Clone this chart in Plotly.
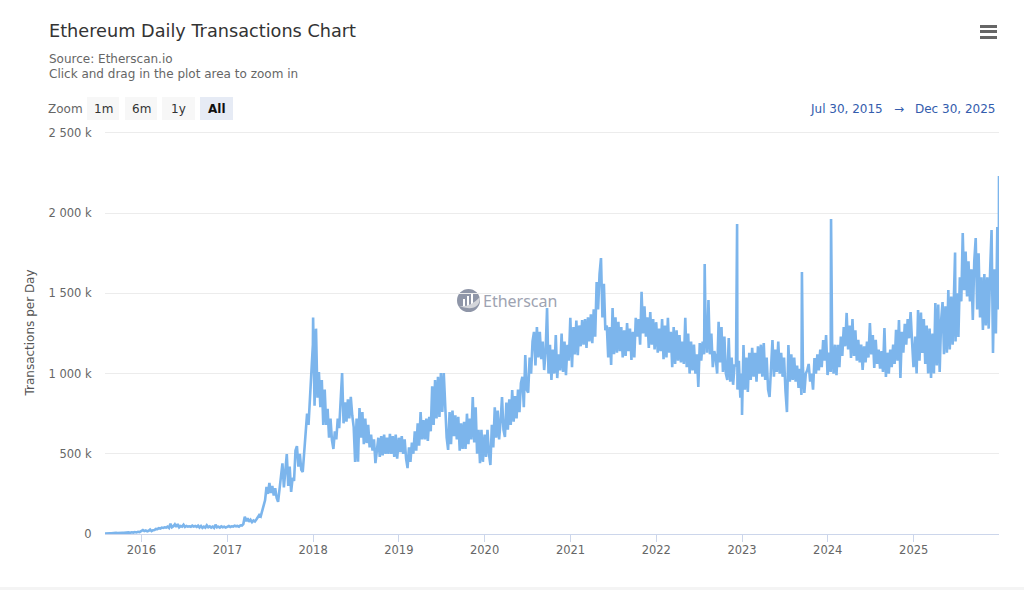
import pandas as pd
import plotly.graph_objects as go

tx_2015 = [2, 4, 3, 5, 4, 6, 5, 7, 6, 8, 7, 8, 7, 9, 8, 10, 8, 11, 9, 12, 10, 14, 12, 16]
tx_2016 = [20, 25, 18, 22, 17, 20, 28, 18, 24, 25, 32, 30, 36, 34, 40, 38, 42, 40, 46, 38,
           64, 42, 48, 60, 44, 62, 42, 50, 46, 58, 44, 50, 46, 48, 45, 52, 46, 50, 44, 52,
           40, 50, 38, 46, 40, 54, 42, 48, 40, 46, 38, 58, 42, 46, 40, 48, 42, 46, 40, 44]
tx_2017 = [45, 50, 44, 48, 46, 52, 48, 50, 46, 54, 52, 62, 108, 80, 98, 76, 88, 74, 84, 78,
           90, 104, 118, 110, 150, 175, 210, 293, 250, 318, 255, 300, 240, 285, 225, 200, 270, 350, 440, 290,
           400, 498, 300, 420, 262, 350, 330, 520, 548, 420, 500, 400, 387, 520, 620, 750, 680, 880, 1050, 1180]
tx_2018 = [1350, 800, 1280, 850, 1010, 790, 960, 680, 900, 680, 780, 600, 720, 586, 530, 640, 590, 720, 660, 800,
           1003, 690, 820, 700, 840, 720, 855, 740, 667, 449, 720, 450, 785, 600, 760, 560, 720, 567, 680, 540,
           620, 520, 590, 442, 510, 600, 480, 610, 490, 620, 500, 600, 500, 625, 500, 610, 480, 620, 470, 600]
tx_2019 = [600, 510, 610, 500, 590, 470, 411, 540, 450, 570, 500, 640, 520, 690, 550, 760, 590, 710, 590, 720,
           580, 730, 640, 920, 680, 960, 720, 980, 730, 1003, 760, 1003, 770, 600, 524, 760, 560, 770, 610, 740,
           590, 730, 520, 690, 530, 700, 530, 750, 560, 720, 590, 854, 570, 790, 500, 650, 442, 650, 450, 620]
tx_2020 = [620, 480, 650, 500, 430, 680, 540, 790, 600, 770, 590, 700, 854, 650, 605, 820, 650, 840, 680, 897,
           700, 860, 720, 900, 760, 940, 980, 790, 1115, 900, 880, 1100, 1000, 1200, 1260, 1050, 1290, 1100, 1260, 1090,
           1200, 1022, 1140, 1408, 1000, 1180, 960, 1150, 1000, 1240, 972, 1120, 1020, 1250, 1010, 1200, 990, 1180, 1080, 1347]
tx_2021 = [1300, 1040, 1290, 1120, 1330, 1115, 1300, 1170, 1334, 1180, 1340, 1160, 1350, 1200, 1370, 1190, 1400, 1230, 1570, 1400,
           1620, 1720, 1350, 1560, 1270, 1300, 1100, 1290, 1053, 1408, 1120, 1350, 1130, 1322, 1140, 1290, 1100, 1270, 1110, 1315,
           1140, 1280, 1085, 1260, 1100, 1347, 1230, 1340, 1180, 1510, 1250, 1420, 1230, 1350, 1160, 1384, 1180, 1340, 1150, 1320]
tx_2022 = [1310, 1130, 1280, 1140, 1340, 1090, 1300, 1100, 1347, 1130, 1260, 1040, 1290, 1060, 1270, 1080, 1240, 1070, 1200, 1060,
           1347, 1040, 1250, 1000, 1200, 1020, 1180, 1000, 1120, 916, 1190, 1080, 1200, 1120, 1300, 1130, 1459, 1120, 1250, 1040,
           1140, 1100, 1000, 1322, 1070, 1290, 1010, 1230, 1000, 960, 1222, 950, 1100, 930, 1050, 1050, 900, 1080, 850, 1000]
tx_2023 = [742, 1178, 900, 1100, 885, 1130, 960, 1160, 980, 1130, 950, 1170, 1000, 1180, 980, 1190, 960, 1100, 900, 854,
           1000, 1209, 980, 1150, 1010, 1200, 1000, 1130, 980, 1100, 890, 760, 1178, 950, 1120, 960, 1100, 950, 1050, 910,
           1030, 867, 1040, 880, 1000, 1020, 1060, 950, 1000, 900, 1097, 1000, 1120, 1020, 1150, 1040, 1209, 1080, 1240, 991]
tx_2024 = [1000, 1130, 1010, 1190, 1000, 1180, 990, 1180, 1040, 1230, 1110, 1290, 1170, 1378, 1150, 1300, 1097, 1340, 1110, 1270,
           1080, 1210, 1070, 1180, 1022, 1170, 1070, 1200, 1100, 1315, 1120, 1240, 1035, 1210, 1060, 1150, 1030, 1140, 1010, 1284,
           979, 1130, 1000, 1150, 1040, 1180, 1060, 1272, 1080, 1334, 972, 1260, 1130, 1310, 1180, 1340, 1220, 1384, 1200, 1040]
tx_2025 = [1050, 1230, 1000, 1396, 1080, 1380, 1128, 1340, 1060, 1300, 1000, 1280, 972, 1250, 1000, 1440, 1050, 1430, 1010, 1330,
           1446, 1120, 1420, 1130, 1521, 1150, 1480, 1180, 1550, 1200, 1500, 1228, 1600, 1450, 1876, 1520, 1760, 1480, 1700, 1450,
           1650, 1334, 1700, 1845, 1400, 1750, 1350, 1600, 1272, 1620, 1300, 1600, 1280, 1640, 1895, 1128, 1650, 1250, 1914, 1400]

# one-day spikes that stick out of the band
spike_dates = ['2022-07-26', '2022-12-11', '2023-09-13', '2024-01-15', '2025-06-26', '2025-12-30']
spike_values = [1683, 1933, 1633, 1964, 1754, 2232]

year_spans = [('2015-07-30', '2015-12-31', tx_2015), ('2016-01-01', '2016-12-31', tx_2016),
              ('2017-01-01', '2017-12-31', tx_2017), ('2018-01-01', '2018-12-31', tx_2018),
              ('2019-01-01', '2019-12-31', tx_2019), ('2020-01-01', '2020-12-31', tx_2020),
              ('2021-01-01', '2021-12-31', tx_2021), ('2022-01-01', '2022-12-31', tx_2022),
              ('2023-01-01', '2023-12-31', tx_2023), ('2024-01-01', '2024-12-31', tx_2024),
              ('2025-01-01', '2025-12-29', tx_2025)]

y_ticks = [0, 500000, 1000000, 1500000, 2000000, 2500000]
y_labels = ['0', '500 k', '1 000 k', '1 500 k', '2 000 k', '2 500 k']
x_ticks = ['2016-01-01', '2017-01-01', '2018-01-01', '2019-01-01', '2020-01-01',
           '2021-01-01', '2022-01-01', '2023-01-01', '2024-01-01', '2025-01-01']

frames = [pd.DataFrame({'date': pd.date_range(a, b, periods=len(v)), 'tx': v}) for a, b, v in year_spans]
frames.append(pd.DataFrame({'date': pd.to_datetime(spike_dates), 'tx': spike_values}))
df = pd.concat(frames).sort_values('date')
df['tx'] = df['tx'] * 1000

W, H = 1024, 590
LEFT, RIGHT, TOP, BOTTOM = 105, 999, 131, 534
FONT = 'DejaVu Sans'


# page pixels to paper coordinates (paper is the plot area, not the page)
def px(x):
    return (x - LEFT) / (RIGHT - LEFT)


def py(y):
    return (BOTTOM - y) / (BOTTOM - TOP)


# annotations carry about 2px of padding, so take it off to land on the pixel asked for
def label(x, y, text, size=12, color='#666666', anchor='left', family=FONT):
    shift = {'left': -2, 'right': 2, 'center': 0}[anchor]
    return dict(x=px(x + shift), y=py(y), xref='paper', yref='paper', text=text, showarrow=False,
                xanchor=anchor, yanchor='middle', font=dict(family=family, size=size, color=color))


def box(x0, y0, x1, y1, color, kind='rect', layer='below'):
    return dict(type=kind, xref='paper', yref='paper', x0=px(x0), x1=px(x1), y0=py(y0), y1=py(y1),
                fillcolor=color, line_width=0, layer=layer)


def curve(points, color):
    start, mid1, end1, mid2, end2 = [f'{px(x):.5f},{py(y):.5f}' for x, y in points]
    return dict(type='path', xref='paper', yref='paper', fillcolor=color, line_width=0, layer='below',
                path=f'M {start} Q {mid1} {end1} Q {mid2} {end2} Z')


fig = go.Figure(go.Scatter(x=df['date'], y=df['tx'], mode='lines', hoverinfo='x+y',
                           line=dict(color='#7cb5ec', width=2.6)))

fig.update_layout(width=W, height=H, margin=dict(l=LEFT, r=W - RIGHT, t=TOP, b=H - BOTTOM),
                  paper_bgcolor='white', plot_bgcolor='white', showlegend=False,
                  font=dict(family=FONT, size=11.5, color='#666666'))

fig.update_xaxes(tickvals=x_ticks, ticktext=[t[:4] for t in x_ticks], ticks='outside', ticklen=7,
                 tickcolor='#ccd6eb', showline=True, linecolor='#ccd6eb', showgrid=False,
                 ticklabelstandoff=-2, tickfont=dict(size=11.5, color='#666666'))
# a little headroom above 2 500 k, plotly drops a gridline that sits on the plot edge
fig.update_yaxes(range=[0, 2512000], tickvals=y_ticks, ticktext=y_labels, ticks='outside', ticklen=10,
                 tickcolor='rgba(0,0,0,0)', showgrid=True, gridcolor='#ececec', zeroline=False,
                 showline=False, tickfont=dict(size=11.5, color='#666666'),
                 title=dict(text='Transactions per Day', font=dict(size=12, color='#555555'), standoff=11))

fig.update_layout(annotations=[
    label(49, 31, 'Ethereum Daily Transactions Chart', size=17.7, color='#333333'),
    label(49, 59, 'Source: Etherscan.io'),
    label(49, 74, 'Click and drag in the plot area to zoom in'),
    label(48, 109, 'Zoom'),
    label(103, 109, '1m', color='#333333', anchor='center'),
    label(141, 109, '6m', color='#333333', anchor='center'),
    label(178.5, 109, '1y', color='#333333', anchor='center'),
    label(216.5, 109, '<b>All</b>', color='#111111', anchor='center'),
    label(883, 109, 'Jul 30, 2015', color='#335cad', anchor='right'),
    label(899, 109, '\u2192', color='#335cad', anchor='center'),
    label(995, 109, 'Dec 30, 2025', color='#335cad', anchor='right'),
    label(483, 301, 'Etherscan', size=16, color='#9ea3b1', family='Noto Sans'),
], shapes=[
    box(0, 587, 1024, 590, '#f4f4f4'),
    box(980, 25, 997, 28, '#666666'),
    box(980, 30, 997, 33, '#666666'),
    box(980, 36, 997, 39, '#666666'),
    # zoom buttons
    box(87, 97, 119, 120, '#f7f7f7'),
    box(125, 97, 157, 120, '#f7f7f7'),
    box(162, 97, 195, 120, '#f7f7f7'),
    box(200, 97, 233, 120, '#e6ebf5'),
    # watermark logo
    box(457, 289, 480, 312, '#8f96a8', 'circle'),
    box(463, 299, 465, 307, 'white'),
    box(467, 296, 469, 307, 'white'),
    box(471, 293, 473, 305, 'white'),
    curve([(458, 306), (470, 308), (480, 297), (480, 313), (458, 306)], '#d4d6db'),
])

fig.write_html("out.html", config={'displayModeBar': False}, post_script="document.body.style.margin='0'")
